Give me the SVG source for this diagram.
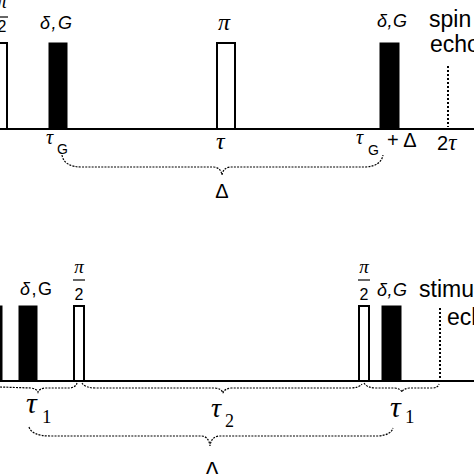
<svg xmlns="http://www.w3.org/2000/svg" width="474" height="474" viewBox="0 0 474 474">
<style>
.base{stroke:#000;stroke-width:2;fill:none}
.rf{fill:#fff;stroke:#000;stroke-width:2}
.gr{fill:#000;stroke:#000;stroke-width:1}
.echo{stroke:#000;stroke-width:2;stroke-dasharray:2,2;fill:none}
.brace{stroke:#000;stroke-width:1.2;stroke-dasharray:2,1.2;fill:none}
.sans{font-family:"Liberation Sans",Arial,sans-serif;fill:#000}
.ital{font-family:"Liberation Sans",Arial,sans-serif;font-style:italic;fill:#000}
.ser{font-family:"Liberation Serif","Times New Roman",serif;font-style:italic;fill:#000}
.serup{font-family:"Liberation Serif","Times New Roman",serif;fill:#000}
</style>
<rect width="474" height="474" fill="#fff"/>

<!-- Top panel: spin echo -->
<g id="top-baseline"><line class="base" x1="0" y1="129" x2="474" y2="129"/></g>
<g id="top-rf90">
  <rect class="rf" x="-10" y="43" width="17" height="86"/>
  <text class="ser" x="2" y="8" font-size="19" text-anchor="middle">π</text>
  <line x1="-4" y1="17" x2="8" y2="17" stroke="#000" stroke-width="1.2"/>
  <text class="sans" x="2" y="32" font-size="16" text-anchor="middle">2</text>
</g>
<g id="top-grad1">
  <rect class="gr" x="49" y="43" width="18" height="86"/>
  <text class="ital" x="40" y="29" font-size="18" textLength="32" lengthAdjust="spacing">δ,G</text>
</g>
<g id="top-rf180">
  <rect class="rf" x="217" y="43" width="18" height="86"/>
  <text class="ser" x="224" y="30" font-size="24" text-anchor="middle">π</text>
</g>
<g id="top-grad2">
  <rect class="gr" x="380" y="43" width="19" height="86"/>
  <text class="ital" x="377" y="27" font-size="18" textLength="30" lengthAdjust="spacing">δ,G</text>
</g>
<g id="top-echo">
  <line class="echo" x1="448" y1="66" x2="448" y2="127"/>
  <text class="sans" x="429" y="27" font-size="23">spin</text>
  <text class="sans" x="430" y="52" font-size="23">echo</text>
</g>
<g id="top-labels">
  <text class="ser" x="46" y="144" font-size="20">τ</text>
  <text class="sans" x="57" y="154" font-size="14">G</text>
  <text class="ser" x="216" y="149" font-size="24">τ</text>
  <text class="ser" x="356" y="144" font-size="20">τ</text>
  <text class="sans" x="368" y="155" font-size="14">G</text>
  <text class="sans" x="387" y="147" font-size="20">+ Δ</text>
  <text class="sans" x="437" y="150" font-size="20">2<tspan class="ser" font-size="23">τ</tspan></text>
  <text class="sans" x="222" y="198" font-size="20" text-anchor="middle">Δ</text>
</g>

<!-- Bottom panel: stimulated echo -->
<g id="bottom-baseline"><line class="base" x1="0" y1="381" x2="474" y2="381"/></g>
<g id="bottom-rf1"><rect class="gr" x="-20" y="306" width="22" height="75"/></g>
<g id="bottom-grad1">
  <rect class="gr" x="19" y="306" width="18" height="75"/>
  <text class="sans" x="20" y="295" font-size="18" textLength="32" lengthAdjust="spacing"><tspan class="ital">δ</tspan>,G</text>
</g>
<g id="bottom-rf2">
  <rect class="rf" x="74" y="306" width="10" height="75"/>
  <text class="ser" x="79" y="273" font-size="19" text-anchor="middle">π</text>
  <line x1="73" y1="280" x2="85" y2="280" stroke="#000" stroke-width="1.2"/>
  <text class="sans" x="79" y="300" font-size="16" text-anchor="middle">2</text>
</g>
<g id="bottom-rf3">
  <rect class="rf" x="359" y="306" width="10" height="75"/>
  <text class="ser" x="364" y="273" font-size="19" text-anchor="middle">π</text>
  <line x1="358" y1="280" x2="370" y2="280" stroke="#000" stroke-width="1.2"/>
  <text class="sans" x="364" y="300" font-size="16" text-anchor="middle">2</text>
</g>
<g id="bottom-grad2">
  <rect class="gr" x="382" y="306" width="19" height="75"/>
  <text class="ital" x="377" y="296" font-size="18" textLength="30" lengthAdjust="spacing">δ,G</text>
</g>
<g id="bottom-echo">
  <line class="echo" x1="440" y1="308" x2="440" y2="380"/>
  <text class="sans" x="419" y="297" font-size="23">stimulated</text>
  <text class="sans" x="447" y="325" font-size="23">echo</text>
</g>
<g id="bottom-labels">
  <text class="ser" x="26" y="413" font-size="30">τ</text>
  <text class="serup" x="42" y="423" font-size="19">1</text>
  <text class="ser" x="211" y="417" font-size="28">τ</text>
  <text class="serup" x="225" y="427" font-size="18">2</text>
  <text class="ser" x="390" y="417" font-size="30">τ</text>
  <text class="serup" x="405" y="423" font-size="19">1</text>
  <text class="sans" x="212" y="477" font-size="22" text-anchor="middle">Δ</text>
</g>

<!-- Connectors (dotted braces) -->
<g id="connectors">
  <path class="brace" d="M62,155 Q64,167 82,167 L214,167 Q221,168 222,175 Q223,168 230,167 L366,167 Q381,166 383,155"/>
  <path class="brace" d="M0,387 L31,388 Q37,389 38,392 Q39,389 45,388 L70,388 Q76,387 77,383"/>
  <path class="brace" d="M82,383 Q85,388 96,388 L215,388 Q222,389 223,393 Q224,389 231,388 L350,388 Q359,388 362,384"/>
  <path class="brace" d="M364,383 Q367,388 376,388 L395,388 Q401,389 402,392 Q403,389 409,388 L432,388 Q438,388 439,384"/>
  <path class="brace" d="M29,427 Q32,436 50,436 L202,436 Q209,437 210,446 Q211,437 219,436 L378,436 Q391,435 393,428"/>
</g>
</svg>
